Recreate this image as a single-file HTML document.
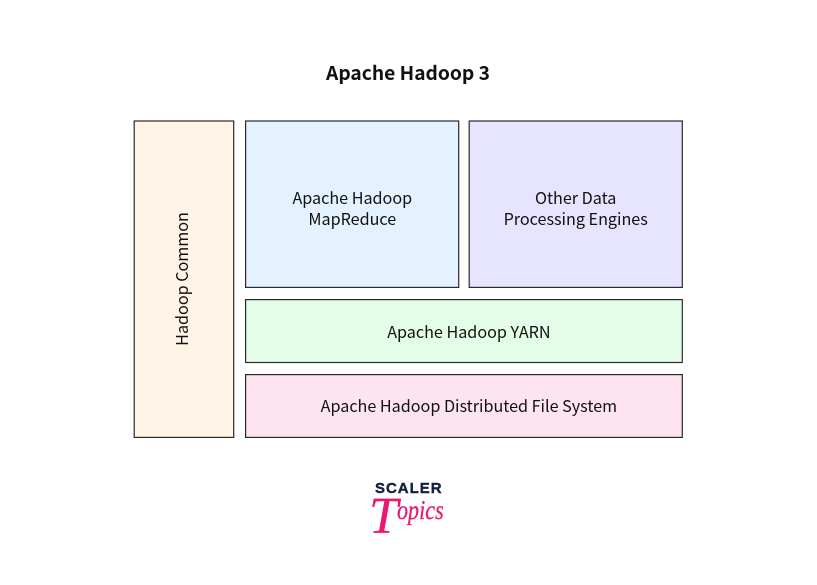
<!DOCTYPE html>
<html><head><meta charset="utf-8"><style>
html,body{margin:0;padding:0;background:#fff;width:817px;height:585px;overflow:hidden}
svg{display:block}
text{font-family:"Noto Sans CJK JP","Noto Sans CJK SC","Liberation Sans",sans-serif;fill:#111;font-size:16.15px;text-anchor:middle}
rect{stroke:#2a2a2a;stroke-width:1.2}
.logo{font-family:'Liberation Serif',serif;font-style:italic;text-anchor:start;fill:#e8196f;stroke:#e8196f;stroke-width:.3}
</style></head><body>
<svg width="817" height="585" viewBox="0 0 817 585" xmlns="http://www.w3.org/2000/svg">
<rect x="0" y="0" width="817" height="585" style="fill:#fff;stroke:none"/>
<text x="408" y="80" style="font-size:19.2px;font-weight:700">Apache Hadoop 3</text>
<rect x="134.2" y="121" width="99.5" height="316.4" fill="#fff4e6"/>
<rect x="245.6" y="121" width="213.1" height="166.4" fill="#e3f2fe"/>
<rect x="469.2" y="121" width="213.1" height="166.4" fill="#e6e4fe"/>
<rect x="245.6" y="299.6" width="436.7" height="62.9" fill="#e3fde8"/>
<rect x="245.6" y="374.6" width="436.7" height="62.8" fill="#fde4f0"/>
<text transform="translate(188,279) rotate(-90)">Hadoop Common</text>
<text x="352.3" y="204">Apache Hadoop</text>
<text x="352.3" y="225">MapReduce</text>
<text x="575.7" y="204">Other Data</text>
<text x="575.7" y="225">Processing Engines</text>
<text x="468.9" y="338">Apache Hadoop YARN</text>
<text x="468.9" y="412">Apache Hadoop Distributed File System</text>
<text x="408.8" y="493" style="font-family:'Liberation Sans',sans-serif;font-size:15px;font-weight:700;letter-spacing:1px;fill:#13213d;stroke:#13213d;stroke-width:.4">SCALER</text>
<text class="logo" transform="translate(369,533)" style="font-size:52px">T</text>
<text class="logo" transform="translate(397,519) scale(.82,1)" style="font-size:27px">opics</text>
</svg>
</body></html>
